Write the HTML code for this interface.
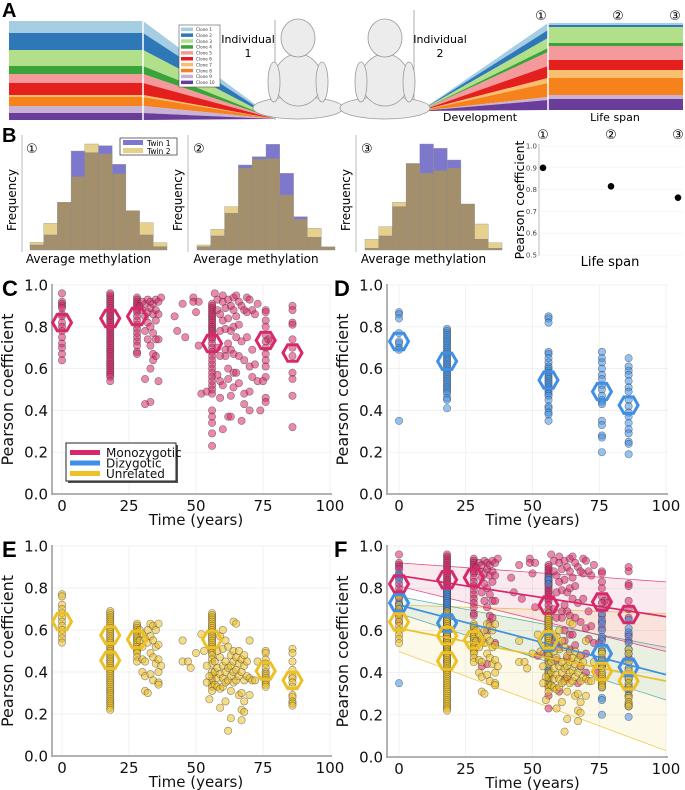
<!DOCTYPE html>
<html><head><meta charset="utf-8"><style>
html,body{margin:0;padding:0;background:#fff;}
svg{display:block;font-family:"DejaVu Sans","Liberation Sans",sans-serif;}
</style></head><body>
<svg id="fig" width="685" height="790" viewBox="0 0 685 790" xmlns="http://www.w3.org/2000/svg">
<g id="panelA"></g>
<g id="panelB"></g>
<g id="panelC"></g>
<g id="panelD"></g>
<g id="panelE"></g>
<g id="panelF"></g>
</svg>
<script>
// ===== Panel C/D/E/F data =====
const colX = [0, 18, 28, 56, 76, 86];
const mzCols = [
 [0.96,0.92,0.91,0.90,0.89,0.86,0.85,0.82,0.80,0.78,0.75,0.72,0.70,0.67,0.64],
 [0.96,0.95,0.94,0.93,0.92,0.91,0.90,0.89,0.88,0.87,0.86,0.85,0.84,0.83,0.82,0.81,0.80,0.79,0.78,0.77,0.76,0.75,0.74,0.73,0.72,0.71,0.70,0.69,0.68,0.67,0.66,0.65,0.64,0.63,0.62,0.61,0.60,0.59,0.58,0.57,0.56,0.54],
 [0.94,0.93,0.92,0.91,0.90,0.89,0.88,0.87,0.85,0.83,0.81,0.79,0.77,0.75,0.73,0.71,0.68,0.67],
 [0.91,0.90,0.89,0.88,0.87,0.86,0.85,0.84,0.83,0.82,0.81,0.80,0.79,0.78,0.77,0.76,0.75,0.74,0.72,0.70,0.68,0.66,0.64,0.62,0.60,0.58,0.56,0.54,0.52,0.50,0.48,0.40,0.37,0.34,0.29,0.23],
 [0.88,0.87,0.83,0.80,0.76,0.73,0.70,0.67,0.64,0.61,0.56,0.46,0.44],
 [0.90,0.88,0.82,0.81,0.74,0.70,0.66,0.58,0.55,0.47,0.32]
];
const mzCloudX = [29,30,30,31,31,31,31,31,32,32,32,32,33,33,33,33,33,33,34,34,34,34,34,35,35,35,35,35,36,36,36,37,36,42,43,45,46,49,49,50,51,51,52,54,57,58,58,58,58,59,59,59,59,59,60,60,60,60,60,61,61,61,61,62,62,62,62,62,62,63,63,63,63,63,64,64,64,64,64,64,65,65,65,65,66,66,66,66,67,67,67,68,68,68,68,69,69,69,70,70,70,70,71,71,71,72,72,73,73,74,75,77,78];
const mzCloudY = [0.90,0.92,0.88,0.91,0.85,0.78,0.55,0.43,0.93,0.87,0.82,0.74,0.92,0.89,0.80,0.71,0.60,0.44,0.91,0.86,0.77,0.67,0.64,0.93,0.88,0.83,0.74,0.66,0.92,0.86,0.54,0.94,0.74,0.85,0.78,0.91,0.75,0.94,0.92,0.87,0.92,0.71,0.48,0.49,0.96,0.93,0.88,0.70,0.57,0.86,0.78,0.66,0.54,0.46,0.95,0.92,0.83,0.52,0.31,0.89,0.79,0.69,0.66,0.93,0.84,0.72,0.60,0.55,0.37,0.90,0.78,0.69,0.47,0.37,0.94,0.88,0.80,0.67,0.58,0.51,0.95,0.85,0.75,0.58,0.92,0.81,0.66,0.53,0.90,0.73,0.35,0.88,0.64,0.48,0.43,0.94,0.87,0.75,0.93,0.61,0.49,0.40,0.88,0.69,0.56,0.86,0.62,0.91,0.54,0.40,0.54,0.74,0.73];
const mzMeanX = [0,18,28,56,76,86];
const mzMeanY = [0.82,0.84,0.85,0.72,0.735,0.675];

const dzColX = [0, 18, 56, 76, 86];
const dzCols = [
 [0.87,0.86,0.84,0.77,0.73,0.72,0.70,0.69,0.35],
 [0.79,0.78,0.77,0.76,0.75,0.74,0.73,0.72,0.71,0.70,0.69,0.68,0.67,0.66,0.65,0.64,0.63,0.62,0.61,0.60,0.59,0.58,0.57,0.56,0.55,0.54,0.53,0.52,0.51,0.50,0.49,0.48,0.46,0.45,0.41],
 [0.85,0.84,0.82,0.68,0.67,0.65,0.63,0.61,0.60,0.59,0.58,0.57,0.56,0.55,0.54,0.53,0.52,0.51,0.50,0.49,0.48,0.47,0.45,0.42,0.41,0.39,0.38,0.35],
 [0.68,0.65,0.63,0.60,0.57,0.55,0.52,0.50,0.47,0.45,0.44,0.43,0.35,0.33,0.28,0.27,0.20],
 [0.65,0.61,0.59,0.57,0.54,0.51,0.49,0.45,0.42,0.39,0.37,0.34,0.31,0.29,0.25,0.24,0.19]
];
const dzMeanX = [0,18,56,76,86];
const dzMeanY = [0.73,0.635,0.545,0.49,0.425];

const unCols = [
 [0.77,0.76,0.72,0.70,0.68,0.66,0.64,0.62,0.60,0.58,0.56,0.54],
 [0.69,0.68,0.67,0.66,0.65,0.64,0.63,0.62,0.61,0.60,0.59,0.58,0.57,0.56,0.55,0.54,0.53,0.52,0.51,0.50,0.49,0.48,0.47,0.46,0.45,0.44,0.43,0.42,0.41,0.40,0.39,0.38,0.37,0.36,0.35,0.34,0.33,0.32,0.31,0.30,0.29,0.28,0.27,0.26,0.25,0.24,0.23,0.22],
 [0.63,0.62,0.61,0.60,0.59,0.58,0.57,0.56,0.55,0.54,0.53,0.52,0.51,0.50,0.49,0.47,0.45],
 [0.68,0.67,0.66,0.65,0.64,0.63,0.62,0.61,0.60,0.59,0.58,0.57,0.56,0.55,0.54,0.53,0.52,0.51,0.50,0.49,0.48,0.46,0.44,0.40,0.38,0.36,0.34,0.33,0.31],
 [0.50,0.49,0.46,0.44,0.42,0.40,0.39,0.38,0.37,0.36,0.35,0.34,0.33],
 [0.51,0.49,0.45,0.41,0.38,0.37,0.35,0.33,0.29,0.28,0.26,0.25,0.24]
];
const unCloudX = [29,29,30,30,30,30,31,31,31,31,32,32,32,33,33,33,33,34,34,34,34,35,35,35,36,36,36,36,36,36,37,45,45,47,48,50,52,53,54,54,55,55,57,57,57,58,58,58,58,59,59,59,59,59,60,60,60,60,60,61,61,61,61,61,62,62,62,62,63,63,63,63,63,64,64,64,64,64,65,65,65,65,66,66,66,66,67,67,67,67,67,68,68,68,68,68,69,69,70,70,70,71,72,73];
const unCloudY = [0.60,0.55,0.58,0.52,0.46,0.40,0.31,0.38,0.45,0.56,0.30,0.60,0.54,0.63,0.57,0.49,0.39,0.62,0.55,0.47,0.36,0.60,0.52,0.44,0.63,0.53,0.46,0.40,0.35,0.34,0.43,0.55,0.45,0.45,0.42,0.49,0.58,0.50,0.35,0.43,0.38,0.27,0.45,0.40,0.34,0.50,0.42,0.37,0.33,0.57,0.47,0.39,0.32,0.23,0.60,0.51,0.43,0.37,0.33,0.55,0.45,0.40,0.35,0.26,0.52,0.42,0.36,0.12,0.48,0.43,0.38,0.31,0.18,0.64,0.50,0.45,0.40,0.35,0.63,0.47,0.41,0.36,0.50,0.44,0.38,0.29,0.46,0.40,0.30,0.22,0.17,0.48,0.43,0.36,0.26,0.21,0.45,0.38,0.55,0.37,0.29,0.36,0.36,0.45];
const unMeanX = [0,18,18,28,56,76,86];
const unMeanY = [0.64,0.575,0.455,0.555,0.555,0.405,0.36];

// regression lines [value at t=0, value at t=100]
const mzFit = [0.86,0.665], mzUp = [0.92,0.83], mzLo = [0.81,0.50];
const dzFit = [0.72,0.39], dzUp = [0.76,0.52], dzLo = [0.68,0.27];
const unFit = [0.61,0.36], unUp = [0.72,0.68], unLo = [0.50,0.03];

const xTicks = [0,25,50,75,100];
const yTicks = [0.0,0.2,0.4,0.6,0.8,1.0];
const yTickLabels = ["0.0","0.2","0.4","0.6","0.8","1.0"];

// ===== Panel B data =====
const histTwin1 = [
 [15,45,143,297,292,313,257,118,45,10],
 [10,42,110,255,280,317,230,100,38,8],
 [5,42,130,258,318,305,270,138,32,5]
];
const histTwin2 = [
 [23,80,143,220,318,288,228,118,82,22],
 [15,62,130,245,272,274,165,92,65,10],
 [32,70,143,260,230,238,245,138,78,22]
];
const lifeLabels = ["①","②","③"];
const lifePearson = [0.90,0.815,0.763];
const lifeTicks = [0.5,0.6,0.7,0.8,0.9,1.0];

const NS = "http://www.w3.org/2000/svg";
function mk(parent, tag, attrs, text){
  const e = document.createElementNS(NS, tag);
  for (const k in attrs) e.setAttribute(k, attrs[k]);
  if (text !== undefined) e.textContent = text;
  parent.appendChild(e);
  return e;
}
const COL = {mz:"#d8286a", dz:"#3f8fe6", un:"#edc025"};

// ===== Panel A =====
(function(){
  const g = document.getElementById('panelA');
  const clones = ["#a6cee3","#2f78b8","#b2df8a","#3aa33a","#f49a9c","#e3201e","#f7bf6e","#f6821c","#cab2d6","#6a3d9a"];
  const leftB = [21,33,50,66,74,83,95,97,106,113,120];
  const rightB = [23,25,27,43,46,60,70,78,95,99,110];
  const wedgeB = [23,30,38,48,52,66,78,83,97,100,110];
  for (let i=0;i<10;i++){
    const p = mk(g,'polygon',{points:`9,${leftB[i]} 143,${leftB[i]} 143,${leftB[i+1]} 9,${leftB[i+1]}`, fill:clones[i]});
     
    const w = mk(g,'polygon',{points:`143,${leftB[i]} 275,119 143,${leftB[i+1]}`, fill:clones[i]});
     
    const rw = mk(g,'polygon',{points:`420,111 548,${wedgeB[i]} 548,${wedgeB[i+1]}`, fill:clones[i]});
     
    const rr = mk(g,'polygon',{points:`548,${rightB[i]} 683,${rightB[i]} 683,${rightB[i+1]} 548,${rightB[i+1]}`, fill:clones[i]});
     
  }
  mk(g,'line',{x1:143,y1:20,x2:143,y2:121,stroke:"#fff","stroke-width":1.5});
  mk(g,'line',{x1:548,y1:20,x2:548,y2:111,stroke:"#fff","stroke-width":1.5});
  mk(g,'line',{x1:275,y1:20,x2:275,y2:120,stroke:"#999","stroke-width":0.8});
  mk(g,'line',{x1:414,y1:10,x2:414,y2:100,stroke:"#999","stroke-width":0.8});
  const lg = mk(g,'g',{});  
  mk(lg,'rect',{x:179,y:25,width:41,height:62,fill:"#fff",stroke:"#555","stroke-width":0.6});
  for (let i=0;i<10;i++){
    mk(lg,'rect',{x:181,y:27.5+i*5.9,width:12,height:3.5,fill:clones[i]});
    mk(lg,'text',{x:196,y:31+i*5.9,"font-size":4.2,fill:"#333"},"Clone "+(i+1));
  }
  mk(g,'text',{x:248,y:43,"font-size":11,"text-anchor":"middle"},"Individual");
  mk(g,'text',{x:248,y:57,"font-size":11,"text-anchor":"middle"},"1");
  mk(g,'text',{x:440,y:43,"font-size":11,"text-anchor":"middle"},"Individual");
  mk(g,'text',{x:440,y:57,"font-size":11,"text-anchor":"middle"},"2");
  function baby(cx, name){
    const b = mk(g,'g',{fill:"#ececec",stroke:"#9a9a9a","stroke-width":0.8});
     
    mk(b,'ellipse',{cx:cx,cy:108,rx:45,ry:11});
    mk(b,'ellipse',{cx:cx,cy:80,rx:24,ry:26});
    mk(b,'ellipse',{cx:cx-24,cy:82,rx:6,ry:20});
    mk(b,'ellipse',{cx:cx+24,cy:82,rx:6,ry:20});
    mk(b,'ellipse',{cx:cx,cy:38,rx:17,ry:19});
  }
  baby(298,'baby-1'); baby(385,'baby-2');
  mk(g,'text',{x:2,y:17,"font-size":20,"font-weight":"bold","font-family":"Liberation Sans"},"A");
  mk(g,'text',{x:480,y:121,"font-size":11,"text-anchor":"middle"},"Development");
  mk(g,'text',{x:615,y:121,"font-size":11,"text-anchor":"middle"},"Life span");
  [541,618,675].forEach((x,i)=>{ mk(g,'text',{x:x,y:20,"font-size":13,"text-anchor":"middle"},lifeLabels[i]); });
})();

// ===== Panel B =====
(function(){
  const g = document.getElementById('panelB');
  mk(g,'text',{x:2,y:142,"font-size":20,"font-weight":"bold","font-family":"Liberation Sans"},"B");
  const starts = [30,197,365], widths = [137,138,137], spines=[22,188,356];
  const scale = 106/318;
  for (let h=0;h<3;h++){
    const hg = mk(g,'g',{});  
    mk(hg,'line',{x1:spines[h],y1:135,x2:spines[h],y2:252,stroke:"#bbb","stroke-width":1});
    const bw = widths[h]/10;
    for (let i=0;i<10;i++){
      const a = histTwin1[h][i], b = histTwin2[h][i];
      const lo = Math.min(a,b), hi = Math.max(a,b);
      const x = starts[h]+i*bw;
      const topC = a>b ? "#7e78cc" : "#e6d08c";
      const r1 = mk(hg,'rect',{x:x,y:250-hi*scale,width:bw,height:(hi-lo)*scale,fill:topC,stroke:"#999","stroke-width":0.4});
       
      const r2 = mk(hg,'rect',{x:x,y:250-lo*scale,width:bw,height:lo*scale,fill:"#a38f6c",stroke:"#8a8a8a","stroke-width":0.4});
       
    }
    mk(hg,'text',{x:starts[h]-4,y:153,"font-size":13},lifeLabels[h]);
    mk(hg,'text',{x:starts[h]+widths[h]/2-10,y:263,"font-size":12,"text-anchor":"middle"},"Average methylation");
    mk(hg,'text',{transform:`translate(${spines[h]-6},200) rotate(-90)`,"font-size":12,"text-anchor":"middle"},"Frequency");
  }
  const lg = mk(g,'g',{});  
  mk(lg,'rect',{x:120,y:138,width:57,height:17,fill:"#fff",stroke:"#444","stroke-width":0.8});
  mk(lg,'rect',{x:123,y:140,width:20,height:5,fill:"#7e78cc"});
  mk(lg,'rect',{x:123,y:148,width:20,height:5,fill:"#e6d08c"});
  mk(lg,'text',{x:147,y:146,"font-size":7.5},"Twin 1");
  mk(lg,'text',{x:147,y:154,"font-size":7.5},"Twin 2");
  const pg = mk(g,'g',{});  
  const py = v => 146 + (1.0 - v)/0.5*109;
  mk(pg,'line',{x1:539,y1:144,x2:539,y2:256,stroke:"#bbb","stroke-width":1});
  lifeTicks.forEach(v=>{
    mk(pg,'line',{x1:539,y1:py(v),x2:683,y2:py(v),stroke:"#f0f0f0","stroke-width":0.6});
    mk(pg,'text',{x:537,y:py(v)+2.5,"font-size":7,"text-anchor":"end",fill:"#444"},v.toFixed(1));
  });
  const px = [543,611,678];
  for (let i=0;i<3;i++){
    const c = mk(pg,'circle',{cx:px[i],cy:py(lifePearson[i]),r:3.3,fill:"#000"});
     
    mk(pg,'text',{x:px[i],y:139,"font-size":13,"text-anchor":"middle"},lifeLabels[i]);
  }
  mk(pg,'text',{x:610,y:266,"font-size":13,"text-anchor":"middle"},"Life span");
  mk(pg,'text',{transform:"translate(524,200) rotate(-90)","font-size":12.5,"text-anchor":"middle"},"Pearson coefficient");
})();

// ===== Scatter panels =====
function axes(g, P, letter){
  const X = t => P.x0 + t/100*(P.x1-P.x0);
  const Y = v => P.y0 - v*(P.y0-P.y1);
  xTicks.forEach(t=>{ mk(g,'line',{x1:X(t),y1:P.y1,x2:X(t),y2:P.y0,stroke:"#ebebeb","stroke-width":0.7}); });
  yTicks.forEach(v=>{ mk(g,'line',{x1:P.sx,y1:Y(v),x2:P.x1+2,y2:Y(v),stroke:"#ebebeb","stroke-width":0.7}); });
  mk(g,'line',{x1:P.sx,y1:P.y1-1,x2:P.sx,y2:P.y0+1,stroke:"#999","stroke-width":1.5});
  mk(g,'line',{x1:P.sx,y1:P.y0,x2:P.x1+2,y2:P.y0,stroke:"#999","stroke-width":1.5});
  yTicks.forEach((v,i)=>{ mk(g,'text',{x:P.sx-4,y:Y(v)+5.5,"font-size":15,"text-anchor":"end",fill:"#111"},yTickLabels[i]); });
  xTicks.forEach(t=>{ mk(g,'text',{x:X(t),y:P.y0+17,"font-size":15,"text-anchor":"middle",fill:"#111"},String(t)); });
  mk(g,'text',{x:(P.x0+P.x1)/2,y:P.y0+31,"font-size":15,"text-anchor":"middle",fill:"#111"},"Time (years)");
  mk(g,'text',{transform:`translate(${P.sx-39},${(P.y0+P.y1)/2}) rotate(-90)`,"font-size":16,"text-anchor":"middle",fill:"#111"},"Pearson coefficient");
  mk(g,'text',{x:P.lx,y:P.y1+11,"font-size":22,"font-weight":"bold","font-family":"Liberation Sans"},letter);
  return [X,Y];
}
function pts(g, X, Y, xs, ys, color, name){
  for (let i=0;i<xs.length;i++){
    const c = mk(g,'circle',{cx:X(xs[i]),cy:Y(ys[i]),r:3.7,fill:color,"fill-opacity":0.55,stroke:"#333","stroke-opacity":0.55,"stroke-width":0.6});
     
  }
}
function colPts(g,X,Y,cx,cols,color,name){
  cols.forEach((ys,j)=>{ pts(g,X,Y,ys.map(()=>cx[j]),ys,color,name); });
}
function hexes(g,X,Y,xs,ys,color,name){
  for (let i=0;i<xs.length;i++){
    const cx=X(xs[i]), cy=Y(ys[i]), r=9.5; let p=[];
    for(let k=0;k<6;k++){const a=Math.PI/3*k; p.push((cx+r*Math.cos(a)).toFixed(1)+","+(cy+r*Math.sin(a)).toFixed(1));}
    const h = mk(g,'polygon',{points:p.join(" "),fill:"none",stroke:color,"stroke-width":3});
     
  }
}
function band(g,X,Y,up,lo,fit,color,name){
  const b = mk(g,'polygon',{points:`${X(0)},${Y(up[0])} ${X(100)},${Y(up[1])} ${X(100)},${Y(lo[1])} ${X(0)},${Y(lo[0])}`,fill:color,"fill-opacity":0.1});
   
  [up,lo].forEach(l=>{ mk(g,'line',{x1:X(0),y1:Y(l[0]),x2:X(100),y2:Y(l[1]),stroke:color,"stroke-width":0.8,"stroke-opacity":0.8}); });
  const f = mk(g,'line',{x1:X(0),y1:Y(fit[0]),x2:X(100),y2:Y(fit[1]),stroke:color,"stroke-width":1.6});
   
}
const PC={x0:62,x1:330,y1:285,y0:494,sx:52,lx:2};
const PD={x0:399,x1:666,y1:285,y0:494,sx:387,lx:334};
const PE={x0:62,x1:330,y1:546,y0:756,sx:52,lx:2};
const PF={x0:399,x1:666,y1:546,y0:757,sx:387,lx:334};
const unColX = colX;

(function(){
  const g = document.getElementById('panelC');
  const [X,Y] = axes(g,PC,"C");
  colPts(g,X,Y,colX,mzCols,COL.mz,'mz-point');
  pts(g,X,Y,mzCloudX,mzCloudY,COL.mz,'mz-point');
  hexes(g,X,Y,mzMeanX,mzMeanY,COL.mz,'mz-mean-marker');
  const lg = mk(g,'g',{});  
  mk(lg,'rect',{x:68,y:445,width:110,height:38,fill:"#555"});
  mk(lg,'rect',{x:66,y:443,width:110,height:38,fill:"#fff",stroke:"#222","stroke-width":1});
  [["Monozygotic",COL.mz],["Dizygotic",COL.dz],["Unrelated",COL.un]].forEach((e,i)=>{
    mk(lg,'rect',{x:70,y:450+i*10.5,width:30,height:5,fill:e[1]});
    mk(lg,'text',{x:106,y:457+i*10.5,"font-size":12,fill:"#111"},e[0]);
  });
})();
(function(){
  const g = document.getElementById('panelD');
  const [X,Y] = axes(g,PD,"D");
  colPts(g,X,Y,dzColX,dzCols,COL.dz,'dz-point');
  hexes(g,X,Y,dzMeanX,dzMeanY,COL.dz,'dz-mean-marker');
})();
(function(){
  const g = document.getElementById('panelE');
  const [X,Y] = axes(g,PE,"E");
  colPts(g,X,Y,unColX,unCols,COL.un,'unrelated-point');
  pts(g,X,Y,unCloudX,unCloudY,COL.un,'unrelated-point');
  hexes(g,X,Y,unMeanX,unMeanY,COL.un,'unrelated-mean-marker');
})();
(function(){
  const g = document.getElementById('panelF');
  const [X,Y] = axes(g,PF,"F");
  band(g,X,Y,unUp,unLo,unFit,COL.un,'unrelated');
  band(g,X,Y,dzUp,dzLo,dzFit,"#3f9a9a",'dz');
  band(g,X,Y,mzUp,mzLo,mzFit,COL.mz,'mz');
  colPts(g,X,Y,colX,mzCols,COL.mz,'mz-point');
  pts(g,X,Y,mzCloudX,mzCloudY,COL.mz,'mz-point');
  colPts(g,X,Y,dzColX,dzCols,COL.dz,'dz-point');
  colPts(g,X,Y,unColX,unCols,COL.un,'unrelated-point');
  pts(g,X,Y,unCloudX,unCloudY,COL.un,'unrelated-point');
  [[mzFit,COL.mz],[dzFit,COL.dz],[unFit,COL.un]].forEach(f=>{ mk(g,'line',{x1:X(0),y1:Y(f[0][0]),x2:X(100),y2:Y(f[0][1]),stroke:f[1],"stroke-width":1.4}); });
  hexes(g,X,Y,mzMeanX,mzMeanY,COL.mz,'mz-mean-marker');
  hexes(g,X,Y,dzMeanX,dzMeanY,COL.dz,'dz-mean-marker');
  hexes(g,X,Y,unMeanX,unMeanY,COL.un,'unrelated-mean-marker');
})();
</script>
</body></html>
